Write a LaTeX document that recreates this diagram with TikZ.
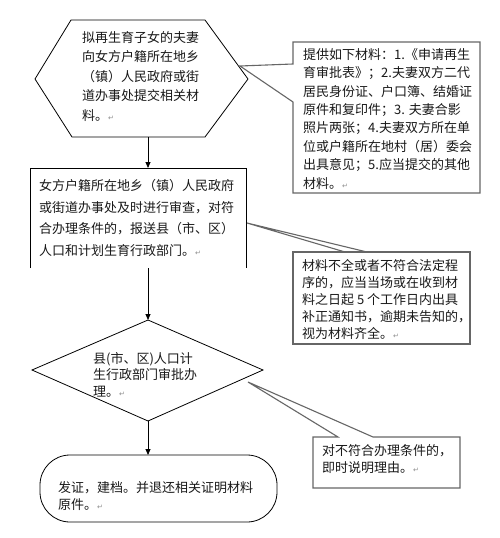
\documentclass[tikz,border=0pt]{standalone}
\usepackage{fontspec}
\setmainfont{Noto Sans CJK SC}
\newfontfamily\symfont{DejaVu Sans}
\usetikzlibrary{arrows.meta}
\newcommand\parmk{{\symfont\fontsize{7}{7}\selectfont\textcolor{black!45}{↵}}}
\begin{document}
\begin{tikzpicture}[x=1pt,y=-1pt,
  shapeline/.style={draw=black, line width=0.8pt},
  callline/.style={draw=black!60, line width=1.1pt, line join=miter},
  flow/.style={draw=black, line width=0.8pt, -{Triangle[length=6pt,width=5pt]}},
  txt/.style={anchor=north west, align=left, inner sep=0pt, text=black!90, font=\fontsize{13}{#1}\selectfont}]
\useasboundingbox (0,0) rectangle (500,538);
\fill[white] (0,0) rectangle (500,538);

% key points
\coordinate (hexb) at (148,137);
\coordinate (b2t) at (148,168);
\coordinate (b2b) at (148,268);
\coordinate (dt) at (148,320);
\coordinate (db) at (148,421);
\coordinate (tt) at (148,455);
\coordinate (tip1) at (240,66);
\coordinate (tip2) at (247,223);
\coordinate (tip3) at (248,382);

% main shapes
\draw[shapeline] (71,20) -- (205,20) -- (248,79) -- (205,137) -- (72,137) -- (35,79) -- cycle;
\draw[shapeline] (30,268) -- (30,168) -- (246,168) -- (246,268);
\draw[shapeline] (dt) -- (263,370) -- (db) -- (32,370) -- cycle;
\draw[shapeline, rounded corners=30pt] (40,455) rectangle (277,522);

% callouts
\draw[callline] (293,64) -- (293,42) -- (480,42) -- (480,193) -- (293,193) -- (293,102) -- (tip1) -- cycle;
\draw[callline] (293,252) rectangle (470,344);
\draw[callline] (345,252) -- (tip2) -- (367,252);
\draw[callline] (338,437) -- (313,437) -- (313,488) -- (460,488) -- (460,437) -- (373,437) -- (tip3) -- cycle;

% connectors
\draw[flow] (hexb) -- (b2t);
\draw[flow] (b2b) -- (dt);
\draw[flow] (db) -- (tt);

% texts
\node[txt=19.5] (hextext) at (82,31) {拟再生育子女的夫妻\\向女方户籍所在地乡\\（镇）人民政府或街\\道办事处提交相关材\\料。\parmk};
\node[txt=18.4] (mattext) at (303,48) {提供如下材料：1.《申请再生\\育审批表》；2.夫妻双方二代\\居民身份证、户口簿、结婚证\\原件和复印件；3. 夫妻合影\\照片两张；4.夫妻双方所在单\\位或户籍所在地村（居）委会\\出具意见；5.应当提交的其他\\材料。\parmk};
\node[txt=21.7] (revtext) at (39,179) {女方户籍所在地乡（镇）人民政府\\或街道办事处及时进行审查，对符\\合办理条件的，报送县（市、区）\\人口和计划生育行政部门。\parmk};
\node[txt=17] (notetext) at (302,259) {材料不全或者不符合法定程\\序的，应当当场或在收到材\\料之日起 5 个工作日内出具\\补正通知书，逾期未告知的，\\视为材料齐全。\parmk};
\node[txt=16.5] (dectext) at (93,352) {县(市、区)人口计\\生行政部门审批办\\理。\parmk};
\node[txt=17] (endtext) at (58,481) {发证，建档。并退还相关证明材料\\原件。\parmk};
\node[txt=17] (rejtext) at (322,444) {对不符合办理条件的，\\即时说明理由。\parmk};
\end{tikzpicture}
\end{document}
